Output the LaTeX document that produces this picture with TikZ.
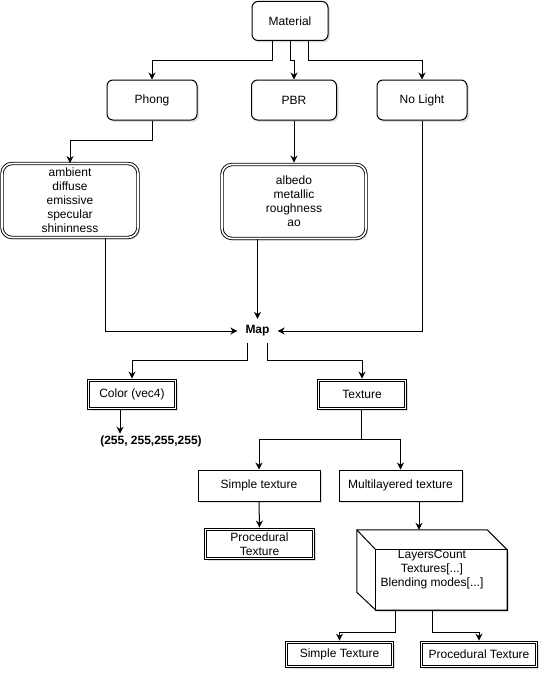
\documentclass[tikz,border=0pt]{standalone}
\usepackage{fontspec}
\setmainfont{Liberation Sans}
\usetikzlibrary{arrows.meta,shadows,calc}
\begin{document}
\begin{tikzpicture}[x=1pt,y=-1pt,
  every node/.style={font=\fontsize{12}{14}\selectfont, align=center, inner sep=2pt},
  shadowed/.style={drop shadow={shadow xshift=2pt, shadow yshift=-2pt, opacity=0.25, fill=gray}},
  rbox/.style={draw, line width=1pt, rounded corners=6pt, fill=white, shadowed, minimum height=40pt},
  pbox/.style={draw, line width=1pt, fill=white, shadowed, minimum height=31pt},
  dbox/.style={draw, line width=0.9pt, double=white, double distance=1.6pt, fill=white, shadowed},
  drbox/.style={dbox, rounded corners=10pt},
  conn/.style={line width=1pt, -{Stealth[length=7pt,width=7pt]}},
  plain/.style={line width=1pt}
]
\useasboundingbox (0,0) rectangle (546,677);

% top level
\node[rbox, minimum width=76pt, minimum height=39pt] (mat) at (290,21) {Material};
\node[rbox, minimum width=90pt] (phong) at (152,100) {Phong};
\node[rbox, minimum width=85pt] (pbr) at (294,100) {PBR};
\node[rbox, minimum width=90pt] (nol) at (422,100) {No Light};

% property boxes
\node[drbox, minimum width=136pt, minimum height=74pt] (amb) at (70,200.5)
  {ambient\\diffuse\\emissive\\specular\\shininness};
\node[drbox, minimum width=144pt, minimum height=74pt] (alb) at (294,201.5)
  {albedo\\metallic\\roughness\\ao};

% map
\node[font=\fontsize{12}{14}\selectfont\bfseries, minimum width=40pt, minimum height=24pt] (map) at (257.5,331) {Map};

\node[dbox, minimum width=87pt, minimum height=28pt] (col) at (132,394.5) {Color (vec4)};
\node[font=\fontsize{12}{14}\selectfont\bfseries, inner sep=3pt] (val) at (151,441) {(255, 255,255,255)};
\node[dbox, minimum width=87pt, minimum height=28pt] (tex) at (362,394.5) {Texture};

\node[pbox, minimum width=122pt] (st) at (259,485.5) {Simple texture};
\node[pbox, minimum width=123pt] (mt) at (400.5,485.5) {Multilayered texture};

\node[dbox, minimum width=108pt, minimum height=29pt, inner sep=1pt] (pt) at (259.5,544) {Procedural\\Texture};

% cube
\node[minimum width=150pt, minimum height=80pt, inner sep=0pt] (cube) at (432,570) {};
\fill[gray, opacity=0.25] ([xshift=2pt,yshift=-2pt]cube.north west) -- ([xshift=-18pt,yshift=-2pt]cube.north east)
  -- ([xshift=2pt,yshift=-22pt]cube.north east) -- ([xshift=2pt,yshift=-2pt]cube.south east)
  -- ([xshift=21pt,yshift=-2pt]cube.south west) -- ([xshift=2pt,yshift=16pt]cube.south west) -- cycle;
\draw[line width=1pt, fill=white] (cube.north west) -- ([xshift=-20pt]cube.north east)
  -- ([yshift=-20pt]cube.north east) -- (cube.south east)
  -- ([xshift=19pt]cube.south west) -- ([yshift=18pt]cube.south west) -- cycle;
\draw[line width=1pt] ([xshift=19pt,yshift=-20pt]cube.north west) rectangle (cube.south east);
\draw[line width=1pt] (cube.north west) -- ([xshift=19pt,yshift=-20pt]cube.north west);
\node at (cube.center) {LayersCount\\Textures[...]\\Blending modes[...]};

\node[dbox, minimum width=106pt, minimum height=24pt] (st2) at (339.5,654.5) {Simple Texture};
\node[dbox, minimum width=115pt, minimum height=24pt] (pt2) at (479,654.5) {Procedural Texture};

% connectors
\draw[conn] ([xshift=-18pt]mat.south) -- ++(0,19.5) -| (phong.north);
\draw[conn] (mat.south) -- ++(0,19.5) -| (pbr.north);
\draw[conn] ([xshift=18pt]mat.south) -- ++(0,19.5) -| (nol.north);

\draw[conn] (phong.south) -- ++(0,20) -| (amb.north);
\draw[conn] (pbr.south) -- ([yshift=1.5pt]alb.north);

\draw[conn] ([xshift=35pt]amb.south) |- (map.west);
\draw[conn] (alb.south -| map.north) -- (map.north);
\draw[conn] (nol.south) |- (map.east);

\draw[conn] ([xshift=-10.5pt]map.south) -- ++(0,17) -| ([yshift=1.5pt]col.north);
\draw[conn] ([xshift=9.5pt]map.south) -- ++(0,17) -| ([yshift=1.5pt]tex.north);

\draw[conn] ([xshift=-12pt,yshift=-1.5pt]col.south) -- ([xshift=-12pt,yshift=-1.5pt]col.south |- val.north);

\draw[conn] ([xshift=-1pt,yshift=-1.5pt]tex.south) -- ++(0,29) -| (st.north);
\draw[conn] ([xshift=-1pt,yshift=-1.5pt]tex.south) -- ++(0,29) -| (mt.north);

\draw[conn] (st.south) -- ([yshift=1.5pt]pt.north);
\draw[conn] ([xshift=18.5pt]mt.south) -- ([xshift=18.5pt]mt.south |- cube.north);

\draw[conn] ([xshift=-37pt]cube.south) -- ++(0,22) -| ([yshift=1.5pt]st2.north);
\draw[conn] (cube.south) -- ++(0,22) -| ([yshift=1.5pt]pt2.north);
\end{tikzpicture}
\end{document}
